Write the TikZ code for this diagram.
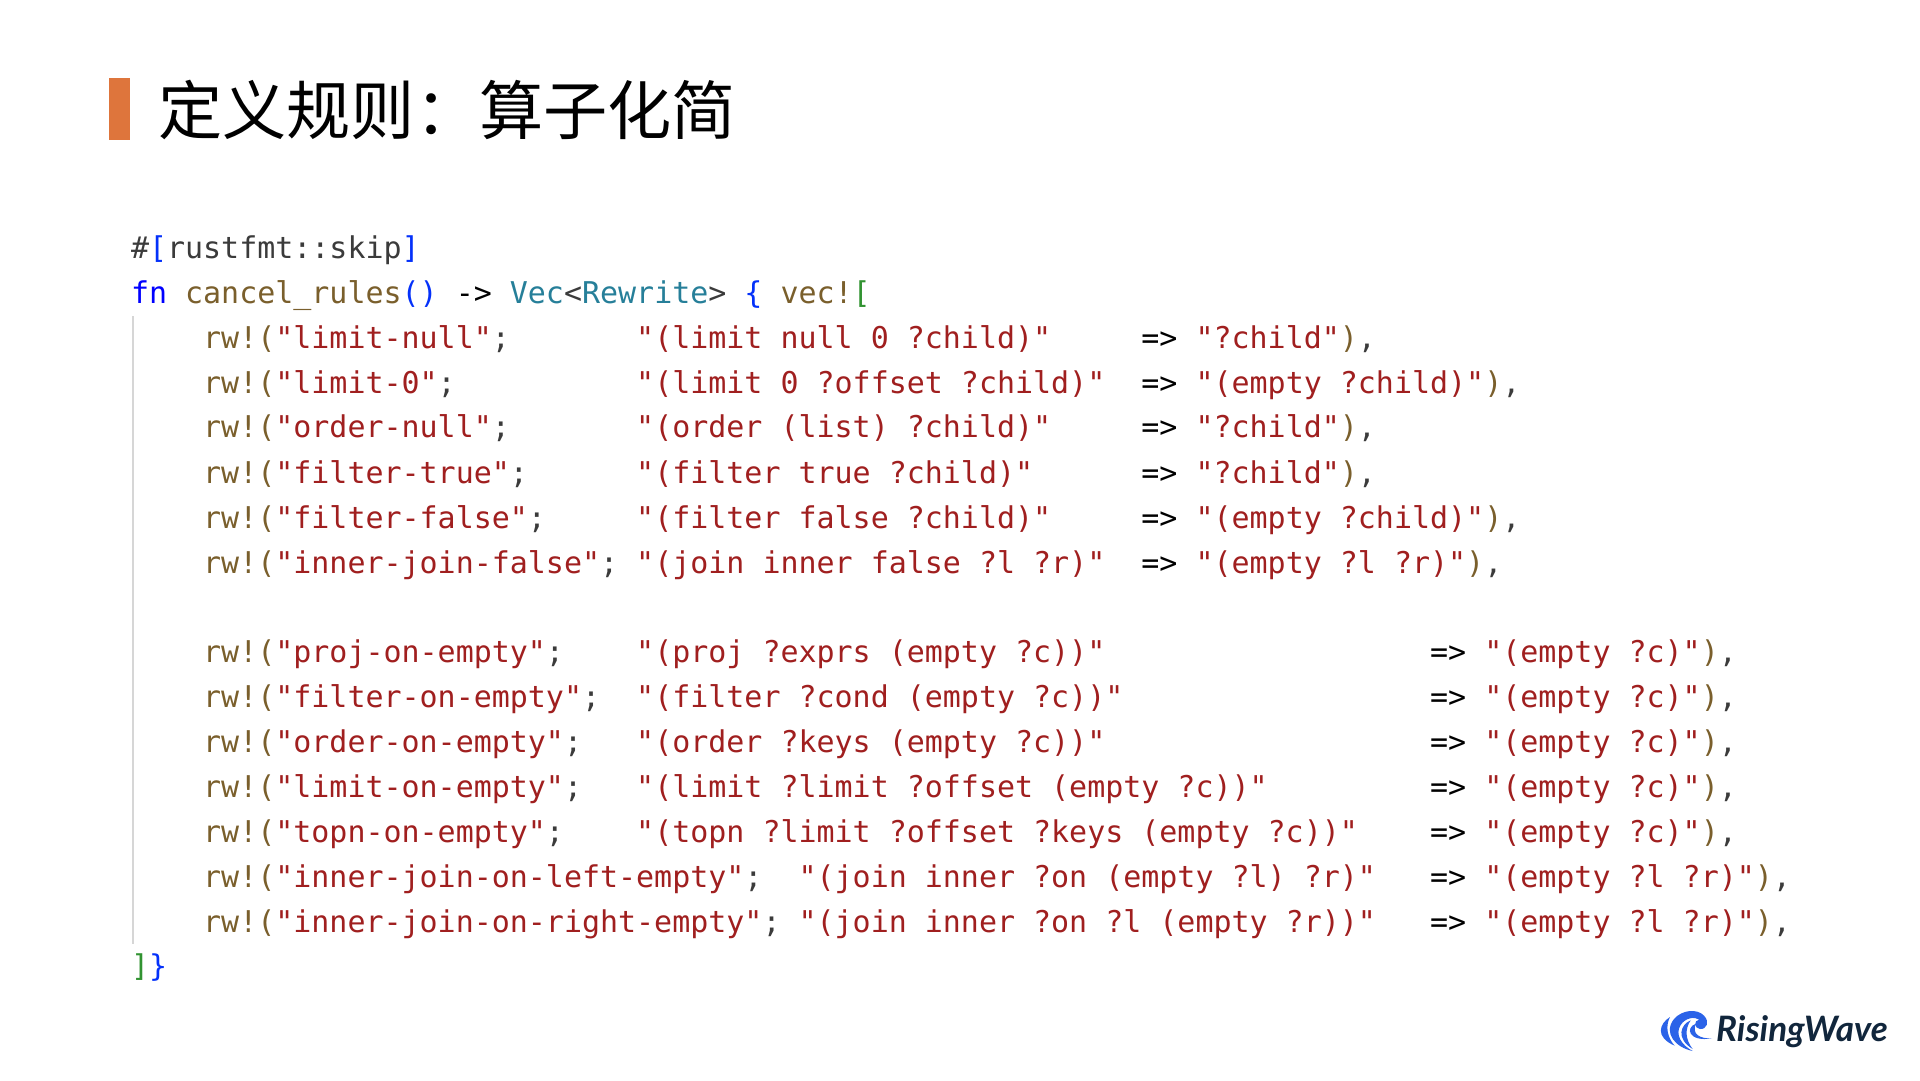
\documentclass[tikz,border=0pt]{standalone}
\usepackage{fontspec}
\setmainfont{Lato}
\newfontfamily\cjk{Noto Sans CJK SC}
\newfontfamily\code{DejaVu Sans Mono}
\definecolor{fnc}{HTML}{7A5F2C}
\definecolor{str}{HTML}{A01F1F}
\definecolor{kw}{HTML}{0000FF}
\definecolor{brk}{HTML}{0431FA}
\definecolor{typ}{HTML}{267F99}
\definecolor{grn}{HTML}{319331}
\definecolor{dk}{HTML}{3B3B3B}
\definecolor{wave}{HTML}{2B63E8}
\definecolor{navy}{HTML}{11263C}
\definecolor{accent}{RGB}{222,117,60}
\definecolor{guide}{RGB}{214,214,214}
\newcommand{\Fn}[1]{\textcolor{fnc}{#1}}
\newcommand{\Sr}[1]{\textcolor{str}{#1}}
\newcommand{\Dk}[1]{\textcolor{dk}{#1}}
\newcommand{\Ar}{\textcolor{black}{=>}}
\newcommand{\Rl}[3]{\Fn{rw!(}\Sr{#1}\Dk{;}#2\Sr{#3}}
\tikzset{
  codeline/.style={anchor=base west,inner sep=0pt,outer sep=0pt,font=\code\fontsize{29.97}{30}\selectfont,text=dk},
}
\begin{document}
\begin{tikzpicture}[x=1pt,y=-1pt]
\useasboundingbox (0,0) rectangle (1920,1080);
\fill[white] (0,0) rectangle (1920,1080);
\fill[accent] (109,78) rectangle (130,140);
\node[anchor=base west,inner sep=0pt,font=\cjk\fontsize{64.2}{64}\selectfont,text=black] (title) at (158,134.5) {定义规则：算子化简};
\draw[line width=2.2pt,guide] (132.8,316) -- (132.8,944);
\node[codeline] (l1) at (131,258) {\#\textcolor{brk}{[}rustfmt::skip\textcolor{brk}{]}};
\node[codeline] (l2) at (131,303.4) {\textcolor{kw}{fn} \Fn{cancel\_rules}\textcolor{brk}{()} \textcolor{black}{->} \textcolor{typ}{Vec}<\textcolor{typ}{Rewrite}> \textcolor{brk}{\{} \Fn{vec!}\textcolor{grn}{[}};
\node[codeline] (l3) at (131,348.2) {~~~~\Rl{"limit-null"}{~~~~~~~}{"(limit null 0 ?child)"}~~~~~\Ar{} \Sr{"?child"}\Fn{)}\Dk{,}};
\node[codeline] (l4) at (131,393.1) {~~~~\Rl{"limit-0"}{~~~~~~~~~~}{"(limit 0 ?offset ?child)"}~~\Ar{} \Sr{"(empty ?child)"}\Fn{)}\Dk{,}};
\node[codeline] (l5) at (131,437.8) {~~~~\Rl{"order-null"}{~~~~~~~}{"(order (list) ?child)"}~~~~~\Ar{} \Sr{"?child"}\Fn{)}\Dk{,}};
\node[codeline] (l6) at (131,483) {~~~~\Rl{"filter-true"}{~~~~~~}{"(filter true ?child)"}~~~~~~\Ar{} \Sr{"?child"}\Fn{)}\Dk{,}};
\node[codeline] (l7) at (131,528) {~~~~\Rl{"filter-false"}{~~~~~}{"(filter false ?child)"}~~~~~\Ar{} \Sr{"(empty ?child)"}\Fn{)}\Dk{,}};
\node[codeline] (l8) at (131,573) {~~~~\Rl{"inner-join-false"}{~}{"(join inner false ?l ?r)"}~~\Ar{} \Sr{"(empty ?l ?r)"}\Fn{)}\Dk{,}};
\node[codeline] (l9) at (131,662.5) {~~~~\Rl{"proj-on-empty"}{~~~~}{"(proj ?exprs (empty ?c))"}~~~~~~~~~~~~~~~~~~\Ar{} \Sr{"(empty ?c)"}\Fn{)}\Dk{,}};
\node[codeline] (l10) at (131,707.6) {~~~~\Rl{"filter-on-empty"}{~~}{"(filter ?cond (empty ?c))"}~~~~~~~~~~~~~~~~~\Ar{} \Sr{"(empty ?c)"}\Fn{)}\Dk{,}};
\node[codeline] (l11) at (131,752.3) {~~~~\Rl{"order-on-empty"}{~~~}{"(order ?keys (empty ?c))"}~~~~~~~~~~~~~~~~~~\Ar{} \Sr{"(empty ?c)"}\Fn{)}\Dk{,}};
\node[codeline] (l12) at (131,797) {~~~~\Rl{"limit-on-empty"}{~~~}{"(limit ?limit ?offset (empty ?c))"}~~~~~~~~~\Ar{} \Sr{"(empty ?c)"}\Fn{)}\Dk{,}};
\node[codeline] (l13) at (131,842.2) {~~~~\Rl{"topn-on-empty"}{~~~~}{"(topn ?limit ?offset ?keys (empty ?c))"}~~~~\Ar{} \Sr{"(empty ?c)"}\Fn{)}\Dk{,}};
\node[codeline] (l14) at (131,887) {~~~~\Rl{"inner-join-on-left-empty"}{~~}{"(join inner ?on (empty ?l) ?r)"}~~~\Ar{} \Sr{"(empty ?l ?r)"}\Fn{)}\Dk{,}};
\node[codeline] (l15) at (131,932) {~~~~\Rl{"inner-join-on-right-empty"}{~}{"(join inner ?on ?l (empty ?r))"}~~~\Ar{} \Sr{"(empty ?l ?r)"}\Fn{)}\Dk{,}};
\node[codeline] (l16) at (131,976.6) {\textcolor{grn}{]}\textcolor{brk}{\}}};
% logo mark
\begin{scope}[shift={(1650,1005)},x=0.3333pt,y=-0.3333pt]
\fill[wave] (60,36) .. controls (28,56) and (14,96) .. (74,122) .. controls (54,100) and (44,66) .. (60,36) -- cycle;
\fill[wave] (128,138) .. controls (78,128) and (38,85) .. (72,42) .. controls (96,14) and (142,10) .. (162,32) .. controls (180,50) and (170,74) .. (150,72) .. controls (132,70) and (130,46) .. (148,44) .. controls (134,34) and (106,38) .. (92,60) .. controls (74,88) and (94,120) .. (128,138) -- cycle;
\fill[wave] (122,46) .. controls (92,58) and (76,100) .. (128,132) .. controls (106,104) and (104,72) .. (122,46) -- cycle;
\fill[wave] (138,56) .. controls (104,68) and (116,112) .. (186,100) .. controls (148,102) and (124,86) .. (138,56) -- cycle;
\end{scope}
\node[anchor=base west,inner sep=0pt,font=\bfseries\itshape\fontsize{35}{36}\selectfont,text=navy] (logo) at (1716,1041) {RisingWave};
\end{tikzpicture}
\end{document}
